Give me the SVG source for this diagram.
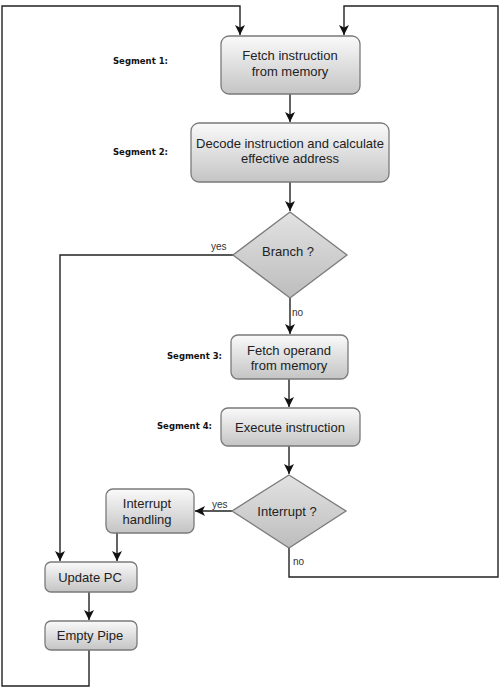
<svg xmlns="http://www.w3.org/2000/svg" width="500" height="688" viewBox="0 0 500 688">
<defs>
<linearGradient id="g" x1="0" y1="0" x2="0" y2="1">
<stop offset="0" stop-color="#fafafa"/>
<stop offset="1" stop-color="#c4c4c4"/>
</linearGradient>
<linearGradient id="gd" x1="0" y1="0" x2="0" y2="1">
<stop offset="0" stop-color="#e2e2e2"/>
<stop offset="1" stop-color="#bdbdbd"/>
</linearGradient>
<marker id="arr" viewBox="0 0 10 10" refX="10" refY="5" markerWidth="10" markerHeight="10" markerUnits="userSpaceOnUse" orient="auto">
<path d="M0,0 L10,5 L0,10 L2.5,5 z" fill="#111"/>
</marker>
<style>
.box{fill:url(#g);stroke:#7a7a7a;stroke-width:1.3}
.dia{fill:url(#gd);stroke:#7a7a7a;stroke-width:1.3}
.t{font-family:"Liberation Sans",Arial,sans-serif;font-size:13px;fill:#222;text-anchor:middle}
.seg{font-family:"DejaVu Sans",Verdana,sans-serif;font-size:8.5px;font-weight:bold;fill:#111}
.lbl{font-family:"Liberation Sans",Arial,sans-serif;font-size:10px;fill:#333}
.c{fill:none;stroke:#222;stroke-width:1.4}
</style>
</defs>
<rect width="500" height="688" fill="#fff"/>
<g id="connectors">
<path class="c" d="M89,650 V686 H2 V6 H240 V35" marker-end="url(#arr)"/>
<path class="c" d="M289,548 V577 H498 V6 H344 V35" marker-end="url(#arr)"/>
<path class="c" d="M290,94 V122" marker-end="url(#arr)"/>
<path class="c" d="M290,182 V211" marker-end="url(#arr)"/>
<path class="c" d="M290,298 V334" marker-end="url(#arr)"/>
<path class="c" d="M289,379 V407" marker-end="url(#arr)"/>
<path class="c" d="M289,446 V474" marker-end="url(#arr)"/>
<path class="c" d="M233,255 H60 V561" marker-end="url(#arr)"/>
<path class="c" d="M232,511 H195" marker-end="url(#arr)"/>
<path class="c" d="M117,533 V561" marker-end="url(#arr)"/>
<path class="c" d="M89,592 V620" marker-end="url(#arr)"/>
<text class="lbl" x="211" y="250">yes</text>
<text class="lbl" x="292" y="316">no</text>
<text class="lbl" x="212" y="508">yes</text>
<text class="lbl" x="293" y="565">no</text>
</g>
<g id="seg-labels">
<text class="seg" x="113" y="64">Segment 1:</text>
<text class="seg" x="113" y="155">Segment 2:</text>
<text class="seg" x="167" y="359">Segment 3:</text>
<text class="seg" x="157" y="429">Segment 4:</text>
</g>
<g id="fetch-instruction">
<rect class="box" x="221" y="36" width="139" height="58" rx="8"/>
<text class="t" x="290" y="60">Fetch instruction</text>
<text class="t" x="290" y="76">from memory</text>
</g>
<g id="decode">
<rect class="box" x="191" y="123" width="198" height="59" rx="8"/>
<text class="t" x="290" y="148">Decode instruction and calculate</text>
<text class="t" x="290" y="163">effective address</text>
</g>
<g id="branch">
<polygon class="dia" points="290,212 347,255 290,298 233,255"/>
<text class="t" x="288" y="256">Branch ?</text>
</g>
<g id="fetch-operand">
<rect class="box" x="231" y="335" width="117" height="44" rx="7"/>
<text class="t" x="289" y="355">Fetch operand</text>
<text class="t" x="289" y="370">from memory</text>
</g>
<g id="execute">
<rect class="box" x="221" y="408" width="139" height="38" rx="7"/>
<text class="t" x="290" y="432">Execute instruction</text>
</g>
<g id="interrupt">
<polygon class="dia" points="289,475 346,511 289,548 232,511"/>
<text class="t" x="287" y="516">Interrupt ?</text>
</g>
<g id="interrupt-handling">
<rect class="box" x="106" y="489" width="88" height="44" rx="7"/>
<text class="t" x="147" y="508">Interrupt</text>
<text class="t" x="147" y="524">handling</text>
</g>
<g id="update-pc">
<rect class="box" x="45" y="562" width="92" height="30" rx="6"/>
<text class="t" x="90" y="582">Update PC</text>
</g>
<g id="empty-pipe">
<rect class="box" x="45" y="621" width="92" height="29" rx="6"/>
<text class="t" x="90" y="640">Empty Pipe</text>
</g>
</svg>
